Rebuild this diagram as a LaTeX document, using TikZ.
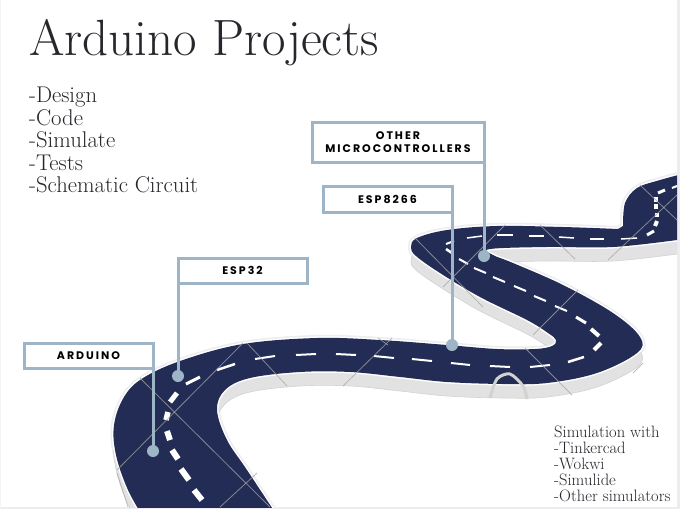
\documentclass[tikz,border=0pt]{standalone}
\usepackage{fontspec}
\newfontfamily\labfont[LetterSpace=18]{Poppins}
\definecolor{road}{HTML}{232C54}
\definecolor{call}{HTML}{9DB5C6}
\definecolor{band}{HTML}{E2E2E2}
\definecolor{ink}{HTML}{26262C}
\definecolor{rim}{HTML}{ECECF1}
\newcommand{\roadpath}{
  plot[smooth,tension=.6] coordinates {(145,520)(128,490)(116,455)(114,425)(124,397)(143,378)(183,360)(243,344)(317,338)(380,340)(447,345)(497,349)(535,349)(552,346)(556,340)(548,333)(527,320)(480,297)(440,273)(416,256)(411,247)(417,238)(447,230)(497,226)(563,227)(618,229)}
  -- plot[smooth,tension=.55] coordinates {(623,226)(625,203)(637,188)(660,180)(690,172)}
  -- (690,238)
  -- plot[smooth,tension=.6] coordinates {(677,240)(613,247)(547,247)(490,249)(493,255)(513,263)(563,285)(613,313)(640,337)(637,353)(597,373)(547,383)(503,384)(447,382)(400,377)(350,372)(300,372)(250,378)(225,390)(217,410)(227,440)(247,470)(280,520)}
  -- cycle}
\tikzset{
  calloutbox/.style={draw=call,line width=3pt,fill=white,inner sep=0pt,outer sep=0pt,align=center,font=\labfont\bfseries\fontsize{11}{13}\selectfont,text=black},
  calloutline/.style={draw=call,line width=3pt},
  calloutdot/.style={circle,fill=call,inner sep=0pt,minimum size=12pt},
  bodytext/.style={anchor=west,inner sep=0pt,text=ink},
  wmark/.style={draw=gray!70!white,opacity=.75,line width=.8pt}
}
\begin{document}
\begin{tikzpicture}[x=1pt,y=-1pt]
\useasboundingbox (0,0) rectangle (680,509);
\fill[white] (0,0) rectangle (680,509);
\fill[rim] (677,0) rectangle (680,509);
\fill[rim] (0,507) rectangle (680,509);
\fill[rim!60!white] (0,0) rectangle (1,509);
\begin{scope}
\clip (1,0) rectangle (677,507);
\draw[rim,line width=6pt] \roadpath;
\fill[band,yshift=-14pt] \roadpath;
\draw[band!85!gray,line width=.6pt,yshift=-14pt] \roadpath;
\draw[white,line width=3pt,fill=white] \roadpath;
\fill[road] \roadpath;
% centre line dashes: x1 y1 x2 y2 width
\foreach \a/\b/\c/\d/\w in {
194/490/202/500/6,181/469/189/480/6,172/450/178/459/6,167/431/170/440/6,168/412/166/420/5.5,177/393/170/402/5,
200/377/186/384/3,235/364/217/370/2.5,275/356/255/359/2,316/354/296/355/2,356/355/336/354/2,394/358/374/356/2,
412/359/432/361/2,451/363/470/365/2,490/366/510/367/2,530/367/550/365/2,568/362/584/357/2.5,594/350/601/343/4,
599/336/591/329/4,586/323/576/317/3,567/311/555/306/2,546/301/534/296/2,526/291/514/286/2,505/282/493/277/2,
486/273/474/268/2,468/264/459/259/2,452/253/446/249/2.5,446/244/454/241/2,467/238/482/236/1.5,497/235/513/235/1.5,
529/236/544/236/1.5,559/237/574/238/1.5,590/239/604/239/1.5,621/239/637/238/1.5,647/235/654/231/3,655/226/657/221/4,
657/217/657/213/4,656/209/656/204/4,656/202/656/197/4,658/193/665/190/3,672/188/677/186/2}
  \draw[white,line width=\w pt] (\a,\b) -- (\c,\d);
% watermark lines
\foreach \a/\b/\c/\d in {
117/470/243/343,140/378/270/507,247/343/287/386,392/338/343/386,257/473/220/507,117/473/128/507,378/338/388/345,
505/225/443/287,415/238/483/307,540/225/575/259,640/185/677/220,677/195/608/260,578/290/533/335,525/348/572/395,643/363/633/373}
  \draw[wmark] (\a,\b) -- (\c,\d);
\draw[gray!35!white,line width=3pt] plot[smooth] coordinates {(490,398)(497,379)(510,374)(523,386)(527,399)};
\end{scope}
\node[bodytext,font=\fontsize{51}{51}\selectfont] (title) at (29,43) {Arduino Projects};
\node[bodytext,font=\fontsize{22.7}{22.5}\selectfont,align=left,anchor=north west] (steps) at (29,87) {-Design\\-Code\\-Simulate\\-Tests\\-Schematic Circuit};
\node[bodytext,font=\fontsize{16.5}{16}\selectfont,align=left,anchor=north west] (sims) at (554,426) {Simulation with\\-Tinkercad\\-Wokwi\\-Simulide\\-Other simulators};
\node[calloutbox,minimum width=129pt,minimum height=25pt] (ard) at (88.5,355.5) {ARDUINO};
\node[calloutbox,minimum width=129pt,minimum height=25pt] (esp32) at (242.5,270.5) {ESP32};
\node[calloutbox,minimum width=129pt,minimum height=26pt] (esp8266) at (387.5,199) {ESP8266};
\node[calloutbox,minimum width=172pt,minimum height=40pt] (other) at (398,142) {OTHER\\MICROCONTROLLERS};
\node[calloutdot] (ardd) at (153,451) {};
\node[calloutdot] (esp32d) at (178,376) {};
\node[calloutdot] (esp8266d) at (452,345) {};
\node[calloutdot] (otherd) at (484,256) {};
\draw[calloutline] (ard.south east) -- (ardd.center);
\draw[calloutline] (esp32.south west) -- (esp32d.center);
\draw[calloutline] (esp8266.south east) -- (esp8266d.center);
\draw[calloutline] (other.south east) -- (otherd.center);
\end{tikzpicture}
\end{document}
